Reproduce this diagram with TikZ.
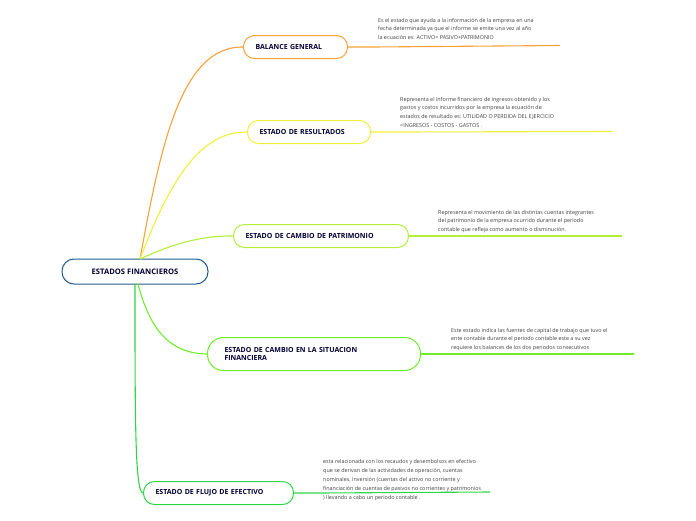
\documentclass[tikz,border=0pt]{standalone}
\usepackage{fontspec}
\setmainfont{Open Sans}
\begin{document}
\begin{tikzpicture}[x=1pt,y=-1pt,
  topic/.style={draw, rounded corners=11pt, line width=1pt, font=\bfseries\fontsize{7}{8.5}\selectfont, text=black!80!blue, anchor=north west, inner sep=0pt, align=left},
  note/.style={font=\fontsize{5.4}{8.6}\selectfont, text=black!75, anchor=north west, align=left, inner sep=0pt},
  conn/.style={line width=1.1pt}]
\useasboundingbox (0,0) rectangle (696,520);
\definecolor{cA}{HTML}{F7A13B}\definecolor{cB}{HTML}{F2EE3A}\definecolor{cC}{HTML}{B2EE3A}
\definecolor{cD}{HTML}{6EEE2A}\definecolor{cE}{HTML}{2ED646}\definecolor{cR}{HTML}{1F5A8C}
\node[draw=cR, rounded corners=12pt, line width=1pt, minimum width=146pt, minimum height=25pt, font=\bfseries\fontsize{7.6}{10}\selectfont, text=black!80!blue] (root) at (135,271.5) {ESTADOS FINANCIEROS};
\node[topic, draw=cA, minimum width=104pt, minimum height=23pt, text width=80pt, inner xsep=12pt] (a) at (243,35) {BALANCE GENERAL};
\node[topic, draw=cB, minimum width=123pt, minimum height=23pt, text width=99pt, inner xsep=12pt] (b) at (247,120) {ESTADO DE RESULTADOS};
\node[topic, draw=cC, minimum width=175pt, minimum height=23pt, text width=151pt, inner xsep=12pt] (c) at (233,224) {ESTADO DE CAMBIO DE PATRIMONIO};
\node[topic, draw=cD, minimum width=213pt, minimum height=33pt, text width=179pt, inner xsep=17pt, rounded corners=16pt] (d) at (207,337) {ESTADO DE CAMBIO EN LA SITUACION\\FINANCIERA};
\node[topic, draw=cE, minimum width=150pt, minimum height=23pt, text width=126pt, inner xsep=12pt] (e) at (143,481) {ESTADO DE FLUJO DE EFECTIVO};
\coordinate (ae) at (560,45.5); \coordinate (be) at (612,131.5);
\coordinate (ce) at (622,236); \coordinate (de) at (634,354); \coordinate (ee) at (490,492);
\draw[cA,conn] (a.east) -- ++(25,0) -- (ae);
\draw[cB,conn] (b.east) -- ++(25,0) -- (be);
\draw[cC,conn] (c.east) -- ++(25,0) -- (ce);
\draw[cD,conn] (d.east) -- ++(25,0) -- (de);
\draw[cE,conn] (e.east) -- ++(25,0) -- (ee);
\node[note] (ta) at (378,18) {Es el estado que ayuda a la información de la empresa en una\\fecha determinada ya que el informe se emite una vez al año\\la ecuación es: ACTIVO= PASIVO+PATRIMONIO};
\node[note] (tb) at (400,97) {Representa el informe financiero de ingresos obtenido y los\\gastos y costos incurridos por la empresa la ecuación de\\estados de resultado es: UTILIDAD O PERDIDA DEL EJERCICIO\\=INGRESOS - COSTOS - GASTOS .};
\node[note] (tc) at (438,210) {Representa el movimiento de las distintas cuentas integrantes\\del patrimonio de la empresa ocurrido durante el periodo\\contable que refleja como aumento o disminución.};
\node[note] (td) at (451,328) {Este estado indica las fuentes de capital de trabajo que tuvo el\\ente contable durante el periodo contable este a su vez\\requiere los balances de los dos periodos consecutivos};
\node[note, font=\fontsize{5.4}{9}\selectfont] (te) at (323,459) {esta relacionada con los recaudos y desembolsos en efectivo\\que se derivan de las actividades de operación, cuentas\\nominales, inversión (cuentas del activo no corriente y\\financiación de cuentas de pasivos no corrientes y patrimonios\\) llevando a cabo un periodo contable .};
\draw[cA,conn] (140,259) .. controls (160,150) and (180,46) .. (a.west);
\draw[cB,conn] (140,259) .. controls (170,180) and (200,131.5) .. (b.west);
\draw[cC,conn] (140,259) .. controls (170,245) and (200,235.5) .. (c.west);
\draw[cD,conn] (138,284) .. controls (150,330) and (170,353.5) .. (d.west);
\draw[cE,conn] (135,284) .. controls (135,420) and (135,492) .. (e.west);
\end{tikzpicture}
\end{document}
